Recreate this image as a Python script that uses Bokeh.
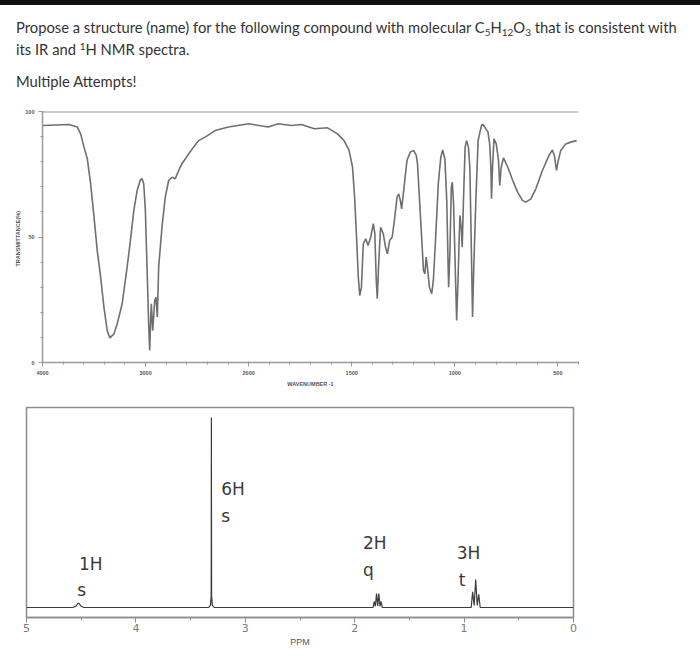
import numpy as np
from bokeh.plotting import figure
from bokeh.models import Range1d, FixedTicker, Span, ColumnDataSource, Div
from bokeh.layouts import column, row
from bokeh.core.properties import value
from bokeh.embed import file_html
from bokeh.resources import INLINE

# ---------------- IR data ----------------
ir_wavenumber = [4000, 3742, 3662, 3630, 3597, 3565, 3533, 3500, 3469, 3436, 3404, 3372,
                 3346, 3307, 3275, 3227, 3179, 3147, 3114, 3082, 3050, 3034, 3018, 3002,
                 2986, 2969, 2960, 2950, 2944, 2931, 2911, 2899, 2886, 2873, 2841, 2809,
                 2776, 2744, 2712, 2679, 2647, 2615, 2583, 2535, 2486, 2422, 2325, 2196,
                 2000, 1905, 1857, 1793, 1745, 1681, 1617, 1569, 1537, 1513, 1496, 1485,
                 1476, 1468, 1461, 1453, 1444, 1432, 1421, 1408, 1395, 1388, 1381, 1376,
                 1370, 1360, 1347, 1336, 1327, 1316, 1304, 1293, 1280, 1272, 1264, 1258,
                 1248, 1232, 1216, 1200, 1187, 1181, 1171, 1160, 1152, 1145, 1139, 1133,
                 1123, 1112, 1104, 1092, 1080, 1068, 1059, 1048, 1039, 1033, 1030, 1024,
                 1017, 1012, 1006, 998, 991, 985, 978, 975, 969, 964, 958, 950, 943, 934,
                 927, 921, 914, 908, 898, 887, 871, 863, 839, 831, 825, 822, 817, 810,
                 799, 788, 782, 775, 764, 743, 719, 695, 671, 655, 631, 607, 575, 543,
                 527, 517, 507, 498, 486, 462, 438, 409]
ir_transmittance = [94.4, 94.8, 93.8, 91.1, 85.8, 81.1, 71.2, 57.9, 44.6, 34.0, 22.0, 12.7,
                    9.8, 11.4, 15.4, 23.4, 38.0, 48.6, 60.6, 68.5, 72.8, 73.2, 71.2, 60.6,
                    38.0, 14.1, 4.8, 18.1, 23.4, 12.7, 24.7, 26.0, 18.1, 38.0, 53.9, 65.9,
                    72.5, 73.8, 73.2, 76.5, 79.2, 81.1, 83.1, 85.8, 88.4, 89.8, 92.4, 93.8,
                    95.1, 93.8, 95.1, 94.4, 94.8, 93.1, 93.5, 91.1, 88.4, 84.5, 77.8, 64.5,
                    48.6, 34.0, 26.7, 30.0, 47.3, 49.3, 46.6, 49.9, 55.3, 51.3, 32.7, 25.4,
                    38.0, 53.9, 51.3, 45.9, 43.3, 48.6, 49.9, 56.6, 65.9, 67.2, 64.5, 61.2,
                    68.5, 80.5, 83.8, 84.5, 82.5, 79.2, 64.5, 48.6, 36.7, 35.3, 42.0, 38.0,
                    30.0, 27.4, 32.7, 51.3, 71.2, 81.8, 84.7, 81.1, 64.5, 40.6, 30.0, 43.3,
                    69.8, 71.8, 63.2, 38.0, 16.7, 31.4, 51.3, 58.6, 53.9, 45.9, 64.5, 85.8,
                    88.4, 85.8, 77.8, 51.3, 18.1, 38.0, 64.5, 88.4, 94.4, 94.8, 91.8, 87.1,
                    77.8, 65.2, 77.8, 89.1, 87.1, 80.5, 70.5, 77.8, 81.5, 77.8, 72.5, 67.8,
                    64.5, 63.9, 65.2, 69.2, 76.5, 82.5, 84.7, 82.5, 76.5, 80.5, 84.5, 87.1,
                    87.8, 88.4]
ir_major_ticks = [4000, 3000, 2000, 1500, 1000, 500]
ir_minor_ticks = list(range(4000, 2000, -200)) + list(range(2000, 399, -100))
ir_y_ticks = [0, 50, 100]
ir_y_minor = list(range(0, 101, 10))

# ---------------- NMR data ----------------
nmr_ppm = [5.00, 4.575, 4.55, 4.535, 4.525, 4.515, 4.50, 4.475,
           3.335, 3.318, 3.312, 3.310, 3.308, 3.302, 3.285,
           1.832, 1.8215, 1.811, 1.8005, 1.790, 1.7795, 1.769, 1.7585, 1.748,
           0.935, 0.922, 0.908, 0.894, 0.880, 0.866, 0.853,
           0.00]
nmr_intensity = [0, 0, 0.006, 0.017, 0.021, 0.017, 0.006, 0,
                 0, 0.012, 0.06, 0.95, 0.06, 0.012, 0,
                 0, 0.03, 0.006, 0.07, 0.008, 0.07, 0.006, 0.03, 0,
                 0, 0.078, 0.01, 0.14, 0.01, 0.066, 0,
                 0]
nmr_label_ppm = [4.52, 4.535, 3.22, 3.22, 1.925, 1.925, 1.067, 1.05]
nmr_label_y = [0.22, 0.09, 0.595, 0.46, 0.325, 0.19, 0.275, 0.14]
nmr_label_text = ["1H", "s", "6H", "s", "2H", "q", "3H", "t"]
nmr_ticks = [5, 4, 3, 2, 1, 0]
nmr_minor = [5, 4.5, 4, 3.5, 3, 2.5, 2, 1.5, 1, 0.5, 0]


def ir_pos(w):
    """IR axis with scale change at 2000 cm-1 (x2 expansion below)."""
    w = np.asarray(w, dtype=float)
    return np.where(w >= 2000, (4000 - w) / 1000.0, 2.0 + (2000 - w) / 500.0)


# ---------------- header text ----------------
txt_style = ("position:absolute;left:16px;white-space:nowrap;font-family:Lato;"
             "font-size:14.75px;line-height:14.75px;color:#333;")
sub = '<span style="font-size:10px;line-height:0;vertical-align:-3px">%s</span>'
sup = '<span style="font-size:10px;line-height:0;vertical-align:5px">%s</span>'
html = (
    '<div style="position:relative;width:700px;height:103px;">'
    '<div style="position:absolute;left:0;top:0;width:700px;height:5px;background:#111;"></div>'
    f'<div style="{txt_style}top:20px;">Propose a structure (name) for the following compound with molecular '
    f'C{sub % "5"}H{sub % "12"}O{sub % "3"} that is consistent with</div>'
    f'<div style="{txt_style}top:42px;">its IR and {sup % "1"}H NMR spectra.</div>'
    f'<div style="{txt_style}top:74px;">Multiple Attempts!</div>'
    '</div>'
)
header = Div(text=html, width=700, height=103, margin=(0, 0, 0, 0))
footer = Div(text='<div style="width:700px;height:4px;background:#222;"></div>',
             width=700, height=4, margin=(0, 0, 0, 0))
ylab = Div(text=('<div style="position:relative;width:22px;height:287px;">'
                 '<div style="position:absolute;left:15px;top:108px;white-space:nowrap;'
                 'writing-mode:vertical-rl;transform:rotate(180deg);line-height:6px;'
                 'font-family:\'Liberation Sans\';font-weight:bold;font-size:5.5px;color:#555;">'
                 'TRANSMITTANCE(%)</div></div>'),
           width=22, height=287, margin=(0, 0, 0, 0))

# ---------------- IR figure ----------------
ir = figure(width=678, height=287, output_backend="svg", toolbar_location=None,
            x_range=Range1d(0, 5.2), y_range=Range1d(0, 100),
            min_border_left=18, min_border_right=122, min_border_top=8, min_border_bottom=28)
ir.grid.visible = False
ir.outline_line_color = None
ir.line(ir_pos(ir_wavenumber), ir_transmittance, line_color="#6f6f6f", line_width=1.6)
ir.add_layout(Span(location=100, dimension="width", line_color="#9a9a9a", line_width=2))

xt = [float(v) for v in ir_pos(ir_major_ticks)]
ir.xaxis.ticker = FixedTicker(ticks=xt, minor_ticks=[float(v) for v in ir_pos(ir_minor_ticks)])
ir.xaxis.major_label_overrides = {t: str(w) for t, w in zip(xt, ir_major_ticks)}
ir.yaxis.ticker = FixedTicker(ticks=ir_y_ticks, minor_ticks=ir_y_minor)
ir.xaxis.axis_label = "WAVENUMBER -1"
for ax in (ir.xaxis[0], ir.yaxis[0]):
    ax.axis_line_color = "#9a9a9a"
    ax.axis_line_width = 1.5
    ax.major_tick_line_color = "#9a9a9a"
    ax.minor_tick_line_color = "#9a9a9a"
    ax.major_tick_in = 0
    ax.major_tick_out = 4
    ax.minor_tick_in = 1
    ax.minor_tick_out = 2
    ax.major_label_text_font = "Liberation Sans"
    ax.major_label_text_font_style = "bold"
    ax.major_label_text_font_size = "5.5px"
    ax.major_label_text_color = "#555"
    ax.axis_label_text_font = "Liberation Sans"
    ax.axis_label_text_font_style = "bold"
    ax.axis_label_text_font_size = "5.5px"
    ax.axis_label_text_color = "#555"
ir.xaxis.major_label_standoff = 4
ir.xaxis.axis_label_standoff = 3
ir.yaxis.major_label_standoff = 4

# ---------------- NMR figure ----------------
nmr = figure(width=700, height=266, output_backend="svg", toolbar_location=None,
             x_range=Range1d(5, 0), y_range=Range1d(-0.05, 1.0), y_axis_location=None,
             min_border_left=26, min_border_right=127, min_border_top=17, min_border_bottom=39)
nmr.grid.visible = False
nmr.outline_line_color = "#8c8c8c"
nmr.outline_line_width = 1.5
nmr.line(nmr_ppm, nmr_intensity, line_color="#3c3c3c", line_width=1.2)
src = ColumnDataSource(dict(x=nmr_label_ppm, y=nmr_label_y, t=nmr_label_text))
nmr.text(x="x", y="y", text="t", source=src, text_font=value("DejaVu Sans"),
         text_font_size="17px", text_color="#3a3a3a", text_align="left",
         text_baseline="alphabetic")
nmr.xaxis.ticker = FixedTicker(ticks=nmr_ticks, minor_ticks=nmr_minor)
nmr.xaxis.axis_label = "PPM"
ax = nmr.xaxis[0]
ax.axis_line_color = "#8c8c8c"
ax.axis_line_width = 1.5
ax.major_tick_line_color = "#8c8c8c"
ax.minor_tick_line_color = "#8c8c8c"
ax.major_tick_in = 0
ax.major_tick_out = 5
ax.minor_tick_in = 0
ax.minor_tick_out = 3
ax.major_label_standoff = 1
ax.major_label_text_font = "DejaVu Sans"
ax.major_label_text_font_size = "11px"
ax.major_label_text_color = "#7a7a7a"
ax.axis_label_standoff = 2
ax.axis_label_text_font = "Liberation Sans"
ax.axis_label_text_font_style = "normal"
ax.axis_label_text_font_size = "9px"
ax.axis_label_text_color = "#555"

layout = column(header, row(ylab, ir, spacing=0), row(nmr), footer, spacing=0)
open("out.html", "w").write(file_html(layout, INLINE))
